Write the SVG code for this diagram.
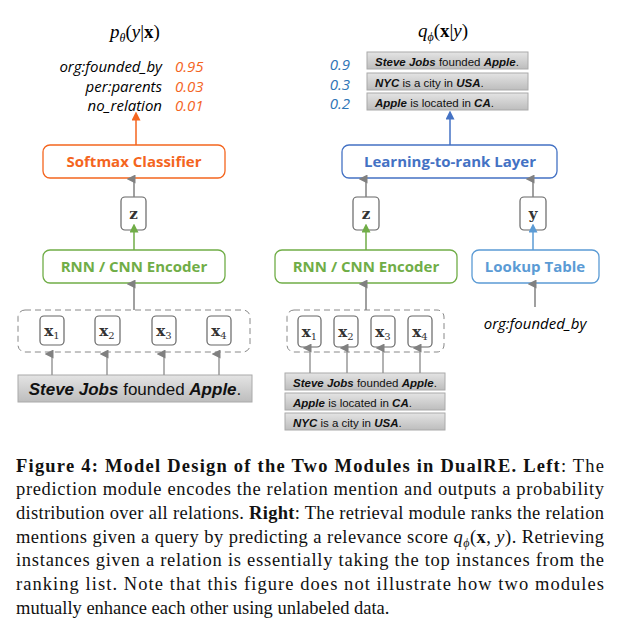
<svg xmlns="http://www.w3.org/2000/svg" width="630" height="640" viewBox="0 0 630 640">
<defs>
<marker id="ag" markerWidth="6" markerHeight="6" refX="3" refY="5" orient="auto-start-reverse" viewBox="0 0 6 6"><path d="M0,6 L3,0 L6,6 Z" fill="#808080"/></marker>
<marker id="agr" markerWidth="6" markerHeight="6" refX="3" refY="5" viewBox="0 0 6 6"><path d="M0,6 L3,0 L6,6 Z" fill="#70ad47"/></marker>
<marker id="ao" markerWidth="6" markerHeight="6" refX="3" refY="5" viewBox="0 0 6 6"><path d="M0,6 L3,0 L6,6 Z" fill="#f4651e"/></marker>
<marker id="ab" markerWidth="6" markerHeight="6" refX="3" refY="5" viewBox="0 0 6 6"><path d="M0,6 L3,0 L6,6 Z" fill="#4472c4"/></marker>
<marker id="alb" markerWidth="6" markerHeight="6" refX="3" refY="5" viewBox="0 0 6 6"><path d="M0,6 L3,0 L6,6 Z" fill="#5b9bd5"/></marker>
<linearGradient id="sg" x1="0" y1="0" x2="0" y2="1"><stop offset="0" stop-color="#e4e4e4"/><stop offset="1" stop-color="#bdbdbd"/></linearGradient>
</defs>
<style>
.ar{font-family:"Liberation Sans",Arial,sans-serif}
.serif{font-family:"Liberation Serif","Times New Roman",serif}
.box{fill:#fff;stroke-width:1.3}
.vb{fill:#fff;stroke:#666;stroke-width:1.2}
.sent{fill:url(#sg);stroke:#aaa;stroke-width:1}
.lbl{font-family:"Open Sans","Liberation Sans",sans-serif;font-weight:bold;font-size:15px;text-anchor:middle}
.it{font-family:"Open Sans","Liberation Sans",sans-serif;font-style:italic;font-size:15px}
.var{font-family:"DejaVu Serif","Liberation Serif",serif;font-weight:bold;font-size:15px;text-anchor:middle;fill:#333}
.st{font-family:"Liberation Sans",Arial,sans-serif;font-size:11.5px;fill:#111}
.ln{stroke-width:1.5;fill:none}
.cap{font-family:"Liberation Serif","Times New Roman",serif;font-size:18.5px;fill:#111}
</style>

<g id="left-title"><text x="135" y="38" class="serif" font-size="19" text-anchor="middle" font-style="italic">p<tspan font-size="12" dy="4">θ</tspan><tspan dy="-4" font-style="normal">(</tspan>y<tspan font-style="normal">|</tspan><tspan font-weight="bold" font-style="normal">x</tspan><tspan font-style="normal">)</tspan></text></g>
<g id="left-probs">
<text x="162" y="72" class="it" text-anchor="end">org:founded_by</text>
<text x="162" y="92" class="it" text-anchor="end">per:parents</text>
<text x="162" y="111" class="it" text-anchor="end">no_relation</text>
<text x="175" y="72" class="it" fill="#f4651e">0.95</text>
<text x="175" y="92" class="it" fill="#f4651e">0.03</text>
<text x="175" y="111" class="it" fill="#f4651e">0.01</text>
</g>
<g id="softmax"><rect x="43" y="145" width="182" height="33" rx="7" class="box" stroke="#f4651e"/><text x="134" y="167" class="lbl" fill="#f4651e">Softmax Classifier</text></g>
<g id="z-left"><rect x="121" y="197" width="25" height="33" rx="4" class="vb"/><text x="133.5" y="219" class="var">z</text></g>
<g id="enc-left"><rect x="43" y="250" width="182" height="33" rx="7" class="box" stroke="#70ad47"/><text x="134" y="272" class="lbl" fill="#70ad47">RNN / CNN Encoder</text></g>
<g id="tokens-left">
<rect x="18" y="310" width="232" height="42" rx="7" fill="none" stroke="#888" stroke-dasharray="6,4"/>
<rect x="40" y="316" width="24" height="29" rx="4" class="vb"/><text x="52" y="336" class="var">x<tspan font-size="10" font-weight="normal" dy="3">1</tspan></text>
<rect x="95" y="316" width="25" height="29" rx="4" class="vb"/><text x="107" y="336" class="var">x<tspan font-size="10" font-weight="normal" dy="3">2</tspan></text>
<rect x="152" y="316" width="24" height="29" rx="4" class="vb"/><text x="164" y="336" class="var">x<tspan font-size="10" font-weight="normal" dy="3">3</tspan></text>
<rect x="207" y="316" width="24" height="29" rx="4" class="vb"/><text x="219" y="336" class="var">x<tspan font-size="10" font-weight="normal" dy="3">4</tspan></text>
</g>
<g id="sent-left"><rect x="18" y="375" width="234" height="27" class="sent"/><text x="135" y="395" class="ar" font-size="17" text-anchor="middle" fill="#111"><tspan font-weight="bold" font-style="italic">Steve Jobs</tspan> founded <tspan font-weight="bold" font-style="italic">Apple</tspan>.</text></g>

<g id="right-title"><text x="443" y="37" class="serif" font-size="19" text-anchor="middle" font-style="italic">q<tspan font-size="12" dy="4">ϕ</tspan><tspan dy="-4" font-style="normal">(</tspan><tspan font-weight="bold" font-style="normal">x</tspan><tspan font-style="normal">|</tspan>y<tspan font-style="normal">)</tspan></text></g>
<g id="right-ranking">
<text x="340" y="70" class="it" fill="#2e75b6" text-anchor="middle">0.9</text>
<text x="340" y="90" class="it" fill="#2e75b6" text-anchor="middle">0.3</text>
<text x="340" y="109" class="it" fill="#2e75b6" text-anchor="middle">0.2</text>
<rect x="367" y="52" width="161" height="17" class="sent"/><text x="375" y="66" class="st"><tspan font-weight="bold" font-style="italic">Steve Jobs</tspan> founded <tspan font-weight="bold" font-style="italic">Apple</tspan>.</text>
<rect x="367" y="73" width="161" height="17" class="sent"/><text x="375" y="87" class="st"><tspan font-weight="bold" font-style="italic">NYC</tspan> is a city in <tspan font-weight="bold" font-style="italic">USA</tspan>.</text>
<rect x="367" y="93" width="161" height="17" class="sent"/><text x="375" y="107" class="st"><tspan font-weight="bold" font-style="italic">Apple</tspan> is located in <tspan font-weight="bold" font-style="italic">CA</tspan>.</text>
</g>
<g id="ltr"><rect x="342" y="145" width="215" height="33" rx="7" class="box" stroke="#4472c4"/><text x="450" y="167" class="lbl" fill="#4472c4">Learning-to-rank Layer</text></g>
<g id="z-right"><rect x="353" y="197" width="26" height="33" rx="4" class="vb"/><text x="366" y="219" class="var">z</text></g>
<g id="y-right"><rect x="520" y="197" width="26" height="33" rx="4" class="vb"/><text x="533" y="219" class="var">y</text></g>
<g id="enc-right"><rect x="275" y="250" width="182" height="33" rx="7" class="box" stroke="#70ad47"/><text x="366" y="272" class="lbl" fill="#70ad47">RNN / CNN Encoder</text></g>
<g id="lookup"><rect x="472" y="250" width="127" height="33" rx="7" class="box" stroke="#5b9bd5"/><text x="535" y="272" class="lbl" fill="#5b9bd5">Lookup Table</text></g>
<g id="query"><text x="535" y="329" class="it" text-anchor="middle">org:founded_by</text></g>
<g id="tokens-right">
<rect x="287" y="310" width="157" height="42" rx="7" fill="none" stroke="#888" stroke-dasharray="6,4"/>
<rect x="298" y="316" width="23" height="31" rx="4" class="vb"/><text x="309.5" y="337" class="var">x<tspan font-size="10" font-weight="normal" dy="3">1</tspan></text>
<rect x="334" y="316" width="24" height="31" rx="4" class="vb"/><text x="346" y="337" class="var">x<tspan font-size="10" font-weight="normal" dy="3">2</tspan></text>
<rect x="371" y="316" width="24" height="31" rx="4" class="vb"/><text x="383" y="337" class="var">x<tspan font-size="10" font-weight="normal" dy="3">3</tspan></text>
<rect x="408" y="316" width="24" height="31" rx="4" class="vb"/><text x="420" y="337" class="var">x<tspan font-size="10" font-weight="normal" dy="3">4</tspan></text>
</g>
<g id="sent-right">
<rect x="285" y="373" width="160" height="17" class="sent"/><text x="293" y="387" class="st"><tspan font-weight="bold" font-style="italic">Steve Jobs</tspan> founded <tspan font-weight="bold" font-style="italic">Apple</tspan>.</text>
<rect x="285" y="393" width="160" height="17" class="sent"/><text x="293" y="407" class="st"><tspan font-weight="bold" font-style="italic">Apple</tspan> is located in <tspan font-weight="bold" font-style="italic">CA</tspan>.</text>
<rect x="285" y="413" width="160" height="17" class="sent"/><text x="293" y="427" class="st"><tspan font-weight="bold" font-style="italic">NYC</tspan> is a city in <tspan font-weight="bold" font-style="italic">USA</tspan>.</text>
</g>

<g id="connectors">
<line x1="136" y1="145" x2="136" y2="119" class="ln" stroke="#f4651e" marker-end="url(#ao)"/>
<line x1="134" y1="197" x2="134" y2="179" class="ln" stroke="#808080" marker-end="url(#ag)"/>
<line x1="134" y1="250" x2="134" y2="231" class="ln" stroke="#70ad47" marker-end="url(#agr)"/>
<line x1="134" y1="310" x2="134" y2="284" class="ln" stroke="#808080" marker-end="url(#ag)"/>
<line x1="52" y1="375" x2="52" y2="354" class="ln" stroke="#999" marker-end="url(#ag)"/>
<line x1="107" y1="375" x2="107" y2="354" class="ln" stroke="#999" marker-end="url(#ag)"/>
<line x1="164" y1="375" x2="164" y2="354" class="ln" stroke="#999" marker-end="url(#ag)"/>
<line x1="219" y1="375" x2="219" y2="354" class="ln" stroke="#999" marker-end="url(#ag)"/>
<line x1="450" y1="145" x2="450" y2="118" class="ln" stroke="#4472c4" marker-end="url(#ab)"/>
<line x1="366" y1="197" x2="366" y2="179" class="ln" stroke="#808080" marker-end="url(#ag)"/>
<line x1="533" y1="197" x2="533" y2="179" class="ln" stroke="#808080" marker-end="url(#ag)"/>
<line x1="366" y1="250" x2="366" y2="231" class="ln" stroke="#70ad47" marker-end="url(#agr)"/>
<line x1="533" y1="250" x2="533" y2="231" class="ln" stroke="#5b9bd5" marker-end="url(#alb)"/>
<line x1="366" y1="310" x2="366" y2="284" class="ln" stroke="#808080" marker-end="url(#ag)"/>
<line x1="535" y1="307" x2="535" y2="284" class="ln" stroke="#808080" marker-end="url(#ag)"/>
<line x1="310" y1="373" x2="310" y2="348" class="ln" stroke="#999" marker-end="url(#ag)"/>
<line x1="347" y1="373" x2="347" y2="348" class="ln" stroke="#999" marker-end="url(#ag)"/>
<line x1="383" y1="373" x2="383" y2="348" class="ln" stroke="#999" marker-end="url(#ag)"/>
<line x1="420" y1="373" x2="420" y2="348" class="ln" stroke="#999" marker-end="url(#ag)"/>
</g>

<g id="caption">
<text x="16" y="472" class="cap" textLength="588" lengthAdjust="spacing"><tspan font-weight="bold">Figure 4: Model Design of the Two Modules in DualRE. Left</tspan>: The</text>
<text x="16" y="495" class="cap" textLength="588" lengthAdjust="spacing">prediction module encodes the relation mention and outputs a probability</text>
<text x="16" y="519" class="cap" textLength="588" lengthAdjust="spacing">distribution over all relations. <tspan font-weight="bold">Right</tspan>: The retrieval module ranks the relation</text>
<text x="16" y="543" class="cap" textLength="588" lengthAdjust="spacing">mentions given a query by predicting a relevance score <tspan font-style="italic">q</tspan><tspan font-style="italic" font-size="12" dy="4">ϕ</tspan><tspan dy="-4">(</tspan><tspan font-weight="bold">x</tspan>, <tspan font-style="italic">y</tspan>). Retrieving</text>
<text x="16" y="566" class="cap" textLength="588" lengthAdjust="spacing">instances given a relation is essentially taking the top instances from the</text>
<text x="16" y="590" class="cap" textLength="588" lengthAdjust="spacing">ranking list. Note that this figure does not illustrate how two modules</text>
<text x="16" y="614" class="cap">mutually enhance each other using unlabeled data.</text>
</g>
</svg>
